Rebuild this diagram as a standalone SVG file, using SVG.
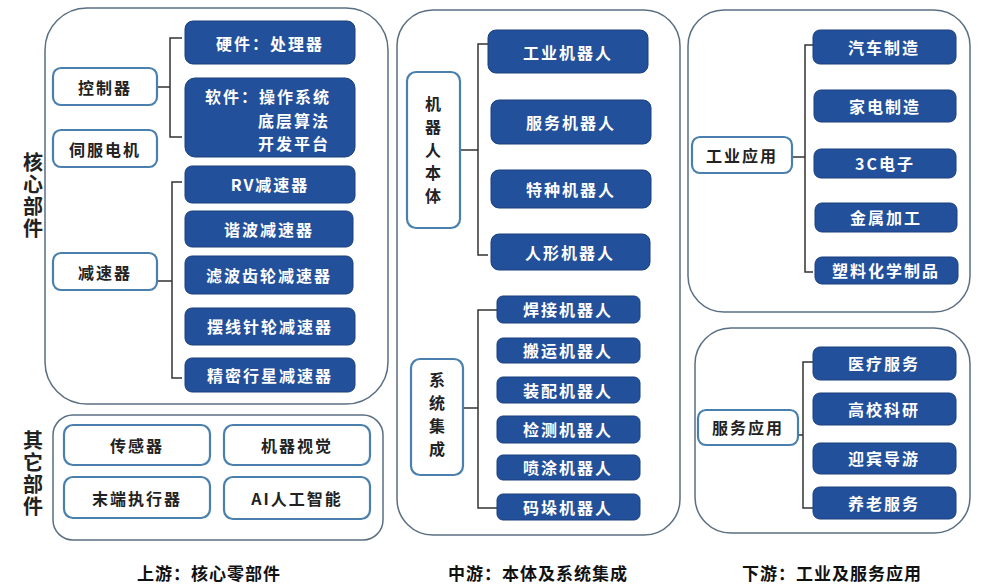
<svg xmlns="http://www.w3.org/2000/svg" width="1000" height="586" viewBox="0 0 1000 586">
<style>
.panel{fill:#fff;stroke:#5b6f82;stroke-width:1.5}
.blue{fill:#22509b;stroke:#1a3f7c;stroke-width:1}
.wbox{fill:#fff;stroke:#4a80ad;stroke-width:2.2}
.bt{fill:#fff;font-family:"Noto Sans CJK SC","Liberation Serif",sans-serif;font-size:16px;font-weight:bold;letter-spacing:2px;text-anchor:middle;dominant-baseline:central}
.wt{fill:#222;font-family:"Noto Sans CJK SC","Liberation Serif",sans-serif;font-size:16px;font-weight:bold;letter-spacing:2px;text-anchor:middle;dominant-baseline:central}
.vt{fill:#222;font-family:"Noto Sans CJK SC",sans-serif;font-size:16px;font-weight:bold;letter-spacing:7px;writing-mode:vertical-rl;text-anchor:start}
.side{fill:#222;font-family:"Noto Sans CJK SC",sans-serif;font-size:20px;font-weight:bold;letter-spacing:2px;writing-mode:vertical-rl;text-anchor:start}
.title{fill:#111;font-family:"Noto Sans CJK SC",sans-serif;font-size:17px;font-weight:bold;letter-spacing:1px;text-anchor:middle;dominant-baseline:central}
.line{fill:none;stroke:#333;stroke-width:1.5}
</style>
<rect width="1000" height="586" fill="#fff"/>

<!-- panels -->
<g id="panel-core"><rect class="panel" x="45" y="8" width="343" height="396" rx="42"/></g>
<g id="panel-other"><rect class="panel" x="53" y="415" width="330" height="125" rx="20"/></g>
<g id="panel-mid"><rect class="panel" x="397" y="10" width="283" height="525" rx="36"/></g>
<g id="panel-ind"><rect class="panel" x="688" y="10" width="282" height="302" rx="36"/></g>
<g id="panel-svc"><rect class="panel" x="695" y="328" width="275" height="205" rx="36"/></g>

<!-- side labels -->
<g id="label-core"><text class="side" x="33" y="152">核心部件</text></g>
<g id="label-other"><text class="side" x="33" y="430">其它部件</text></g>

<!-- connectors -->
<g id="connectors">
<path class="line" d="M157,87 H170 M182,38 H170 V137 H182"/>
<path class="line" d="M157,281 H172 M182,182 H172 V378 H182"/>
<path class="line" d="M460,150 H478 M488,44 H478 V255 H488"/>
<path class="line" d="M463,408 H478 M497,310 H478 V508 H497"/>
<path class="line" d="M792,157 H805 M813,45 H805 V272 H813"/>
<path class="line" d="M798,435 H803 M813,362 H803 V508 H813"/>
</g>

<!-- upstream nodes -->
<g id="n-controller"><rect class="wbox" x="53" y="68" width="104" height="37" rx="8"/><text class="wt" x="105" y="87">控制器</text></g>
<g id="n-servo"><rect class="wbox" x="53" y="130" width="104" height="37" rx="8"/><text class="wt" x="105" y="149">伺服电机</text></g>
<g id="n-reducer"><rect class="wbox" x="53" y="253" width="104" height="37" rx="8"/><text class="wt" x="105" y="272">减速器</text></g>

<g id="n-hw"><rect class="blue" x="185" y="21" width="170" height="43" rx="8"/><text class="bt" x="270" y="43">硬件：处理器</text></g>
<g id="n-sw"><rect class="blue" x="185" y="78" width="170" height="79" rx="10"/>
<text class="bt" x="205" y="96" style="text-anchor:start">软件：操作系统</text>
<text class="bt" x="258" y="120" style="text-anchor:start">底层算法</text>
<text class="bt" x="258" y="143" style="text-anchor:start">开发平台</text></g>
<g id="n-rv"><rect class="blue" x="185" y="166" width="170" height="37" rx="7"/><text class="bt" x="270" y="184">RV减速器</text></g>
<g id="n-harmonic"><rect class="blue" x="185" y="211" width="168" height="36" rx="7"/><text class="bt" x="269" y="229">谐波减速器</text></g>
<g id="n-filter"><rect class="blue" x="185" y="256" width="168" height="38" rx="7"/><text class="bt" x="269" y="275">滤波齿轮减速器</text></g>
<g id="n-cycloid"><rect class="blue" x="185" y="308" width="170" height="37" rx="7"/><text class="bt" x="270" y="326">摆线针轮减速器</text></g>
<g id="n-planet"><rect class="blue" x="185" y="358" width="170" height="34" rx="7"/><text class="bt" x="270" y="375">精密行星减速器</text></g>

<g id="n-sensor"><rect class="wbox" x="64" y="425" width="146" height="40" rx="9"/><text class="wt" x="137" y="445">传感器</text></g>
<g id="n-vision"><rect class="wbox" x="224" y="425" width="146" height="40" rx="9"/><text class="wt" x="297" y="445">机器视觉</text></g>
<g id="n-effector"><rect class="wbox" x="64" y="477" width="146" height="41" rx="9"/><text class="wt" x="137" y="498">末端执行器</text></g>
<g id="n-ai"><rect class="wbox" x="224" y="477" width="146" height="42" rx="9"/><text class="wt" x="297" y="498">AI人工智能</text></g>

<!-- midstream nodes -->
<g id="n-body"><rect class="wbox" x="407" y="72" width="53" height="156" rx="9"/><text class="vt" x="433" y="96">机器人本体</text></g>
<g id="n-indrobot"><rect class="blue" x="488" y="30" width="160" height="43" rx="8"/><text class="bt" x="568" y="52">工业机器人</text></g>
<g id="n-svcrobot"><rect class="blue" x="491" y="100" width="160" height="44" rx="8"/><text class="bt" x="571" y="122">服务机器人</text></g>
<g id="n-special"><rect class="blue" x="491" y="170" width="160" height="38" rx="8"/><text class="bt" x="571" y="189">特种机器人</text></g>
<g id="n-humanoid"><rect class="blue" x="491" y="234" width="159" height="36" rx="8"/><text class="bt" x="570" y="252">人形机器人</text></g>

<g id="n-integration"><rect class="wbox" x="411" y="359" width="52" height="116" rx="9"/><text class="vt" x="437" y="372">系统集成</text></g>
<g id="n-weld"><rect class="blue" x="497" y="296" width="143" height="27" rx="6"/><text class="bt" x="568" y="309">焊接机器人</text></g>
<g id="n-carry"><rect class="blue" x="497" y="338" width="143" height="25" rx="6"/><text class="bt" x="568" y="350">搬运机器人</text></g>
<g id="n-assembly"><rect class="blue" x="497" y="377" width="143" height="26" rx="6"/><text class="bt" x="568" y="390">装配机器人</text></g>
<g id="n-inspect"><rect class="blue" x="497" y="416" width="143" height="27" rx="6"/><text class="bt" x="568" y="429">检测机器人</text></g>
<g id="n-spray"><rect class="blue" x="497" y="455" width="143" height="25" rx="6"/><text class="bt" x="568" y="467">喷涂机器人</text></g>
<g id="n-stack"><rect class="blue" x="497" y="494" width="143" height="26" rx="6"/><text class="bt" x="568" y="507">码垛机器人</text></g>

<!-- downstream nodes -->
<g id="n-industrial"><rect class="wbox" x="692" y="137" width="100" height="36" rx="8"/><text class="wt" x="742" y="155">工业应用</text></g>
<g id="n-auto"><rect class="blue" x="813" y="30" width="143" height="34" rx="7"/><text class="bt" x="884" y="47">汽车制造</text></g>
<g id="n-appliance"><rect class="blue" x="814" y="90" width="142" height="32" rx="7"/><text class="bt" x="885" y="106">家电制造</text></g>
<g id="n-3c"><rect class="blue" x="814" y="149" width="142" height="29" rx="7"/><text class="bt" x="885" y="163">3C电子</text></g>
<g id="n-metal"><rect class="blue" x="815" y="203" width="142" height="29" rx="7"/><text class="bt" x="886" y="217">金属加工</text></g>
<g id="n-plastic"><rect class="blue" x="815" y="257" width="143" height="27" rx="7"/><text class="bt" x="886" y="270">塑料化学制品</text></g>

<g id="n-service"><rect class="wbox" x="698" y="410" width="100" height="35" rx="8"/><text class="wt" x="748" y="427">服务应用</text></g>
<g id="n-medical"><rect class="blue" x="813" y="347" width="143" height="33" rx="7"/><text class="bt" x="884" y="363">医疗服务</text></g>
<g id="n-research"><rect class="blue" x="813" y="393" width="143" height="32" rx="7"/><text class="bt" x="884" y="409">高校科研</text></g>
<g id="n-guide"><rect class="blue" x="813" y="443" width="143" height="31" rx="7"/><text class="bt" x="884" y="458">迎宾导游</text></g>
<g id="n-elderly"><rect class="blue" x="813" y="487" width="143" height="32" rx="7"/><text class="bt" x="884" y="503">养老服务</text></g>

<!-- titles -->
<g id="titles">
<text class="title" x="209" y="572">上游：核心零部件</text>
<text class="title" x="538" y="572">中游：本体及系统集成</text>
<text class="title" x="832" y="572">下游：工业及服务应用</text>
</g>
</svg>
